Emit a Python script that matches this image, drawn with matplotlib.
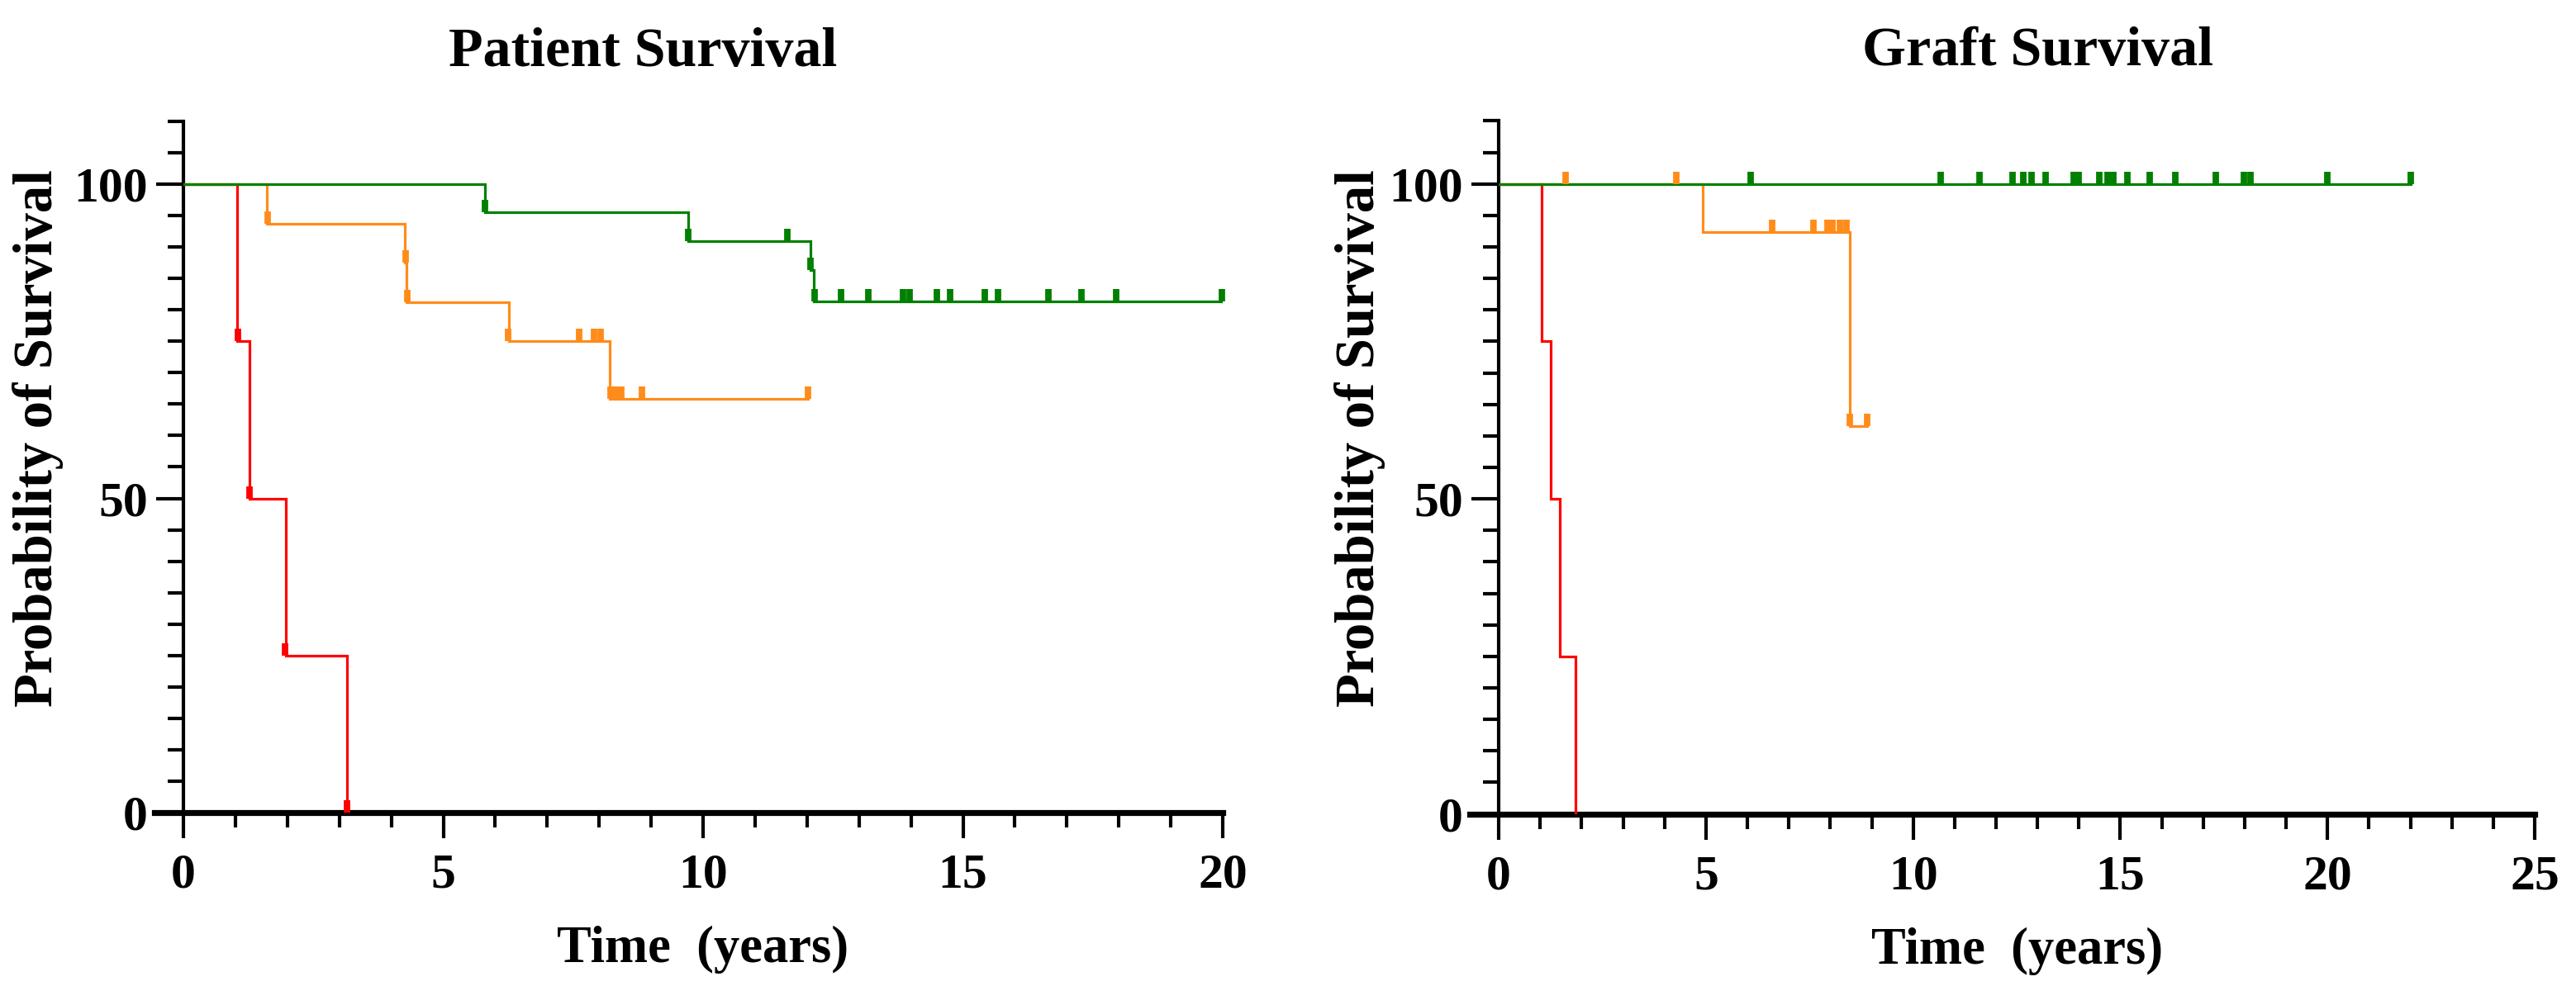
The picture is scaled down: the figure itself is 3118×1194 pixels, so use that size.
import matplotlib
matplotlib.use("Agg")
import matplotlib.pyplot as plt
from matplotlib.ticker import MultipleLocator, FixedLocator

# ---------------- Data ----------------
# Patient survival
pat_red_time = [0, 1.03, 1.27, 1.97, 3.15]
pat_red_surv = [100, 75, 50, 25, 0]
pat_red_cens_time = [1.05, 1.27, 1.95, 3.15]
pat_red_cens_surv = [75, 50, 25, 0]

pat_orange_time = [0, 1.60, 4.26, 4.30, 6.26, 8.21, 12.02]
pat_orange_surv = [100, 93.75, 87.5, 81.25, 75, 65.8, 65.8]
pat_orange_cens_time = [1.62, 4.27, 4.31, 6.24, 7.62, 7.90, 8.03, 8.22, 8.32, 8.42, 8.83, 12.02]
pat_orange_cens_surv = [93.75, 87.5, 81.25, 75, 75, 75, 75, 65.8, 65.8, 65.8, 65.8, 65.8]

pat_green_time = [0, 5.80, 9.71, 12.07, 12.13, 20.0]
pat_green_surv = [100, 95.5, 91.0, 86.3, 81.3, 81.3]
pat_green_cens_time = [5.80, 9.71, 11.62, 12.07, 12.15, 12.66, 13.18, 13.85, 13.97,
                       14.50, 14.75, 15.42, 15.68, 16.65, 17.28, 17.95, 19.98]
pat_green_cens_surv = [95.5, 91.0, 91.0, 86.3, 81.3, 81.3, 81.3, 81.3, 81.3,
                       81.3, 81.3, 81.3, 81.3, 81.3, 81.3, 81.3, 81.3]

# Graft survival
gr_red_time = [0, 1.04, 1.25, 1.48, 1.86]
gr_red_surv = [100, 75, 50, 25, 0]
gr_red_cens_time = []
gr_red_cens_surv = []

gr_orange_time = [0, 4.92, 8.48, 8.89]
gr_orange_surv = [100, 92.3, 61.5, 61.5]
gr_orange_cens_time = [1.61, 4.29, 6.60, 7.60, 7.93, 8.06, 8.23, 8.40, 8.48, 8.89]
gr_orange_cens_surv = [100, 100, 92.3, 92.3, 92.3, 92.3, 92.3, 92.3, 61.5, 61.5]

gr_green_time = [0, 22.0]
gr_green_surv = [100, 100]
gr_green_cens_time = [6.07, 10.66, 11.61, 12.39, 12.65, 12.85, 13.19, 13.87, 13.99, 14.50,
                      14.70, 14.83, 15.17, 15.70, 16.33, 17.30, 17.99, 18.14, 19.99, 22.0]
gr_green_cens_surv = [100, 100, 100, 100, 100, 100, 100, 100, 100, 100,
                      100, 100, 100, 100, 100, 100, 100, 100, 100, 100]

titles = ["Patient Survival", "Graft Survival"]
x_label = "Time  (years)"
y_label = "Probability of Survival"
y_major_ticks = [0, 50, 100]
x_limits = [20, 25]

# ---------------- Style ----------------
RED = "#FF0000"
ORANGE = "#FF8C1A"
GREEN = "#008000"
FONT = "Liberation Serif"
FS_TICK = 21.5
FS_TITLE = 24.5
FS_YLAB = 24
FS_XLAB = 22.5

plt.rcParams["font.family"] = [FONT, "DejaVu Serif"]
plt.rcParams["font.weight"] = "bold"

fig = plt.figure(figsize=(15.59, 5.97), dpi=200)
ax_left = fig.add_axes([0.0712, 0.1759, 0.4035, 0.7010])
ax_right = fig.add_axes([0.5818, 0.1745, 0.4022, 0.7029])

tick_marker = [(0, 0), (0, 1)]  # censor tick rising from the survival level


def draw_panel(ax, series, xmax, title, title_x, ylab_x):
    for t, s, ct, cs, col in series:
        ax.step(t, s, where="post", color=col, lw=1.15, zorder=3, solid_joinstyle="miter")
        if ct:
            ax.plot(ct, cs, linestyle="none", marker=tick_marker, markersize=11,
                    markeredgewidth=2.8, color=col, zorder=4, clip_on=False)
    ax.set_xlim(0, xmax)
    ax.set_ylim(0, 110)
    ax.xaxis.set_major_locator(MultipleLocator(5))
    ax.xaxis.set_minor_locator(MultipleLocator(1))
    ax.yaxis.set_major_locator(FixedLocator(y_major_ticks))
    ax.yaxis.set_minor_locator(MultipleLocator(5))
    for s in ["top", "right"]:
        ax.spines[s].set_visible(False)
    ax.spines["left"].set_linewidth(1.5)
    ax.spines["bottom"].set_linewidth(2.6)
    ax.spines["bottom"].set_bounds(-0.028 * xmax, xmax)
    ax.tick_params(axis="x", which="major", direction="out", length=11, width=1.5,
                   pad=7, labelsize=FS_TICK)
    ax.tick_params(axis="x", which="minor", direction="out", length=6.5, width=1.5)
    ax.tick_params(axis="y", which="major", direction="out", length=12, width=1.5,
                   pad=3.5, labelsize=FS_TICK)
    ax.tick_params(axis="y", which="minor", direction="out", length=7, width=1.5)
    for lab in ax.get_xticklabels() + ax.get_yticklabels():
        lab.set_fontweight("bold")
        lab.set_family(FONT)
    ax.set_xlabel(x_label, fontsize=FS_XLAB, fontweight="bold", family=FONT, va="center")
    ax.set_ylabel(y_label, fontsize=FS_YLAB, fontweight="bold", family=FONT, va="center")
    ax.xaxis.set_label_coords(0.5, -0.198)
    ax.yaxis.set_label_coords(ylab_x, 0.542)
    ax.set_title(title, fontsize=FS_TITLE, fontweight="bold", family=FONT,
                 x=title_x, y=1.06)
    ax.patch.set_alpha(0)


draw_panel(ax_left,
           [(pat_red_time, pat_red_surv, pat_red_cens_time, pat_red_cens_surv, RED),
            (pat_orange_time, pat_orange_surv, pat_orange_cens_time, pat_orange_cens_surv, ORANGE),
            (pat_green_time, pat_green_surv, pat_green_cens_time, pat_green_cens_surv, GREEN)],
           x_limits[0], titles[0], 0.442, -0.140)

draw_panel(ax_right,
           [(gr_red_time, gr_red_surv, gr_red_cens_time, gr_red_cens_surv, RED),
            (gr_orange_time, gr_orange_surv, gr_orange_cens_time, gr_orange_cens_surv, ORANGE),
            (gr_green_time, gr_green_surv, gr_green_cens_time, gr_green_cens_surv, GREEN)],
           x_limits[1], titles[1], 0.52, -0.134)

fig.savefig("out.png", dpi=200, facecolor="white")
